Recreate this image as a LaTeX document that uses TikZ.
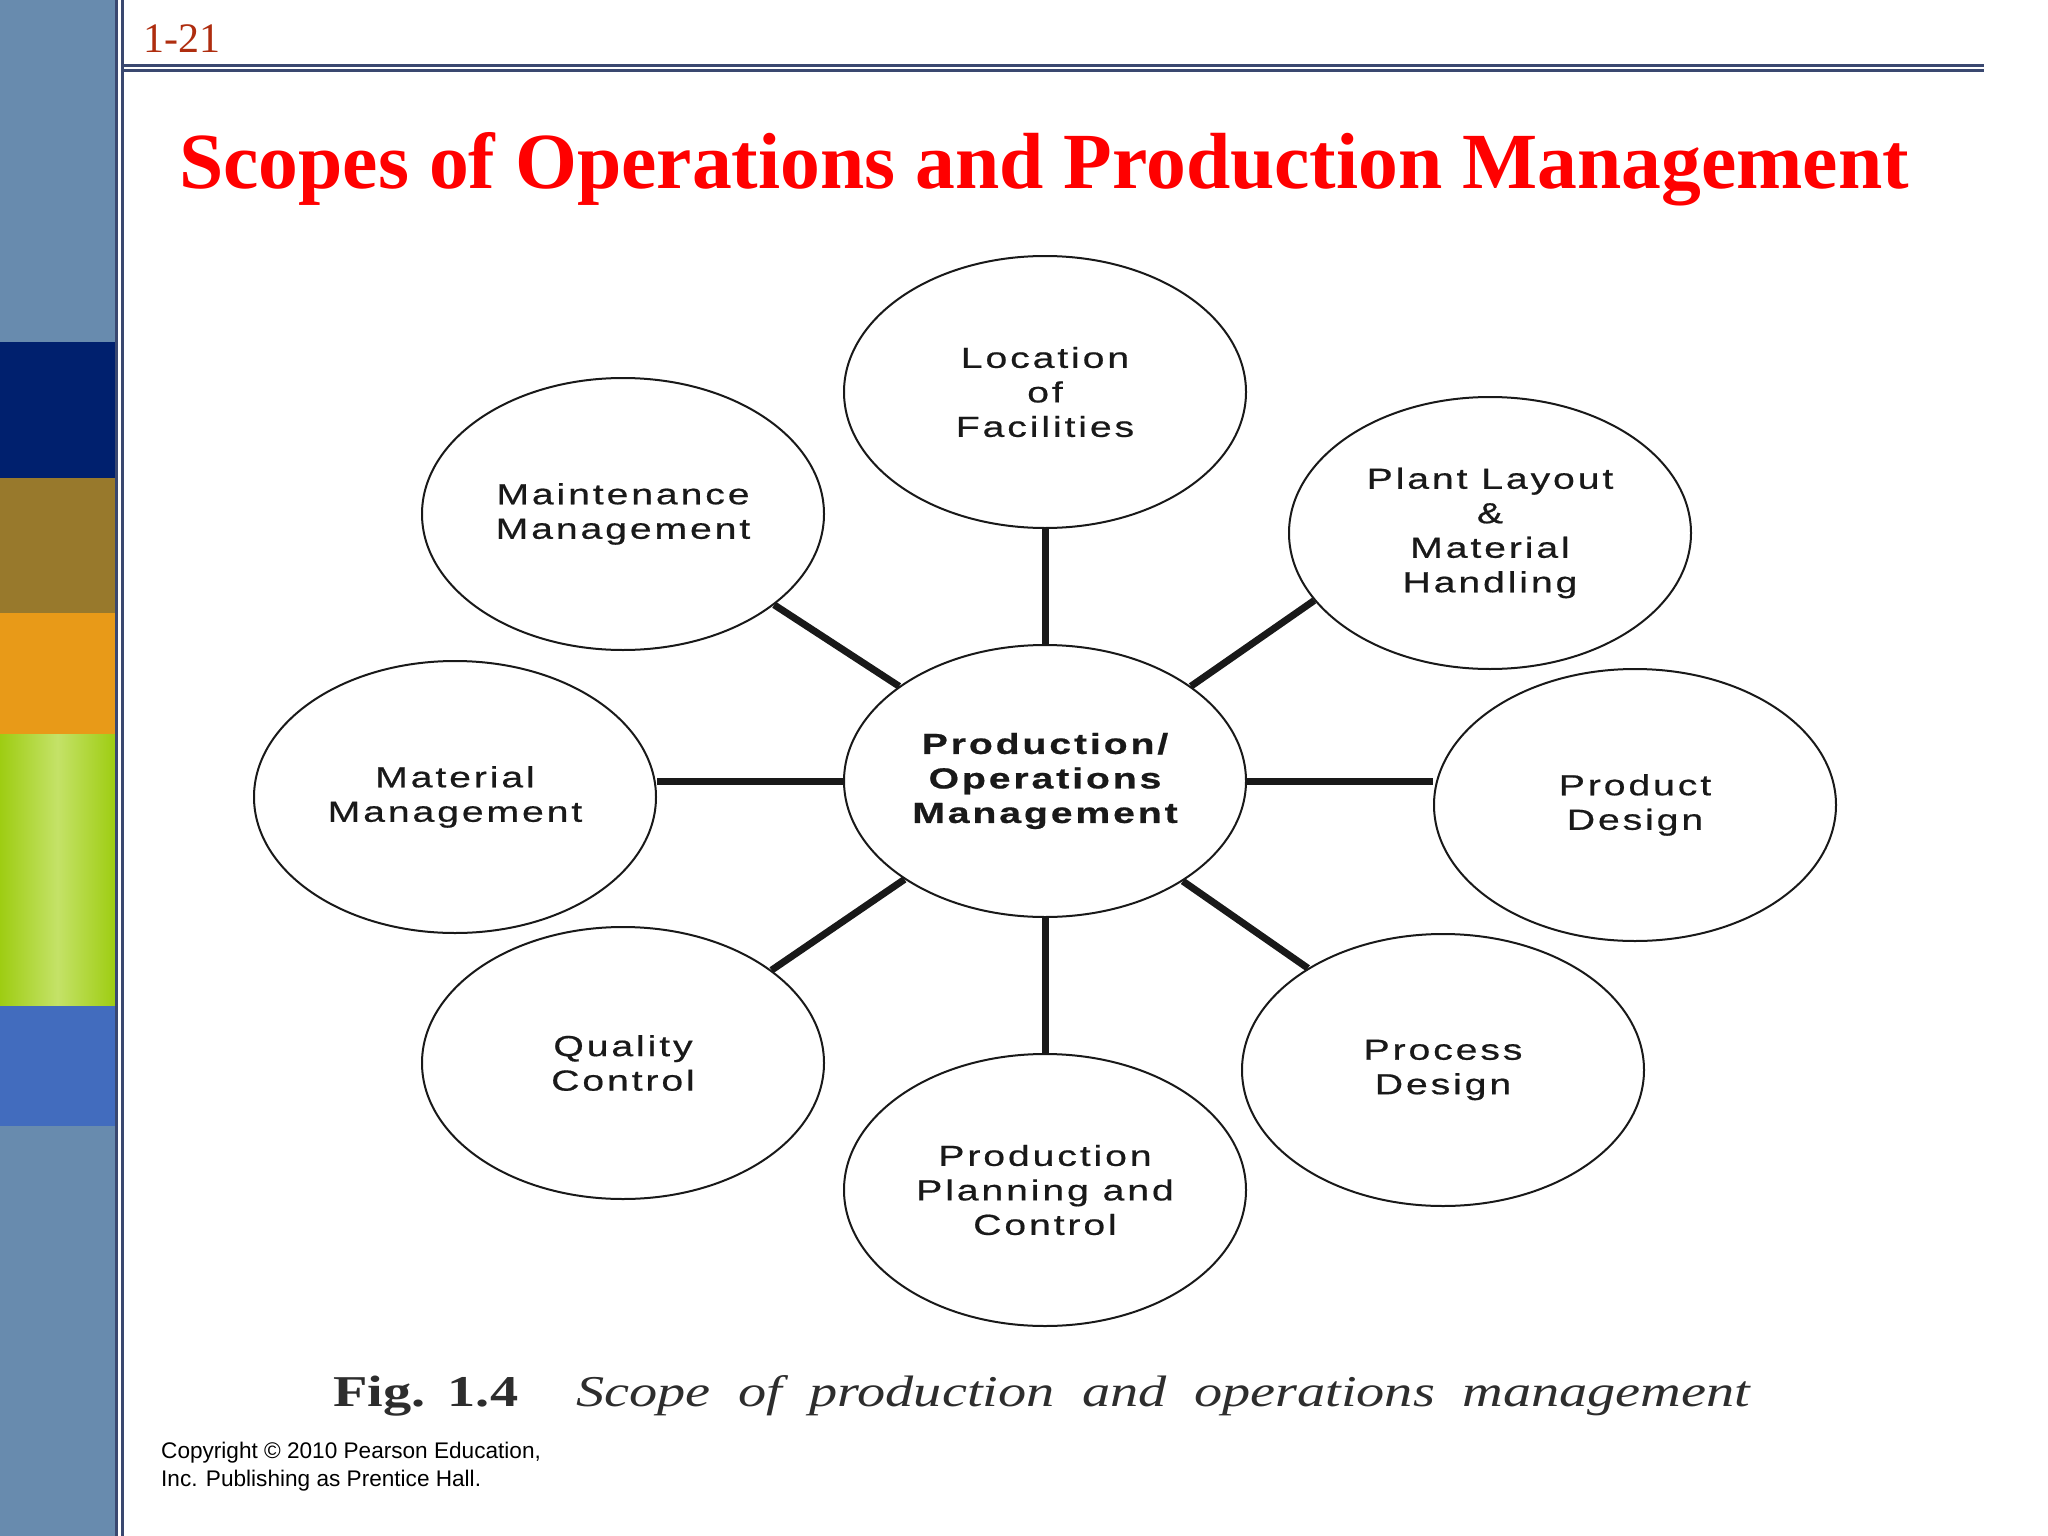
\documentclass[tikz,border=0pt]{standalone}
\usepackage{fontspec}
\setmainfont{Liberation Serif}
\newfontfamily\bubblefont[FakeStretch=1.35,LetterSpace=10,FakeBold=0.6]{Liberation Sans}
\newfontfamily\capfont[FakeStretch=1.28]{Liberation Serif}
\newfontfamily\arialfont{Liberation Sans}
\usetikzlibrary{shapes.geometric}
\definecolor{bargrey}{RGB}{104,139,174}
\definecolor{barnavy}{RGB}{0,32,110}
\definecolor{barbrown}{RGB}{152,121,44}
\definecolor{barorange}{RGB}{232,154,24}
\definecolor{bargreen}{RGB}{158,205,18}
\definecolor{barlight}{RGB}{196,226,104}
\definecolor{barblue}{RGB}{66,108,190}
\definecolor{rulec}{RGB}{58,72,112}
\definecolor{inkc}{RGB}{25,25,25}
\definecolor{capgrey}{RGB}{45,45,45}
\definecolor{titlered}{RGB}{255,0,0}
\definecolor{pagenum}{RGB}{175,45,15}
\begin{document}
\begin{tikzpicture}[x=1pt,y=-1pt,
  bubble/.style={draw=inkc, line width=2pt, ellipse, minimum width=402pt,
    minimum height=272pt, inner sep=0pt, align=center, text=inkc,
    font=\bubblefont\fontsize{29}{34.5}\selectfont},
  spoke/.style={line width=7pt, draw=inkc},
  rulel/.style={line width=3pt, draw=rulec},
  plain/.style={inner sep=0pt, anchor=base west}]
\useasboundingbox (0,0) rectangle (2048,1536);
\fill[white] (0,0) rectangle (2048,1536);
% left colour bar
\fill[bargrey] (0,0) rectangle (115,342);
\fill[barnavy] (0,342) rectangle (115,478);
\fill[barbrown] (0,478) rectangle (115,613);
\fill[barorange] (0,613) rectangle (115,734);
\shade[left color=bargreen, right color=bargreen, middle color=barlight] (0,734) rectangle (115,1006);
\fill[barblue] (0,1006) rectangle (115,1126);
\fill[bargrey] (0,1126) rectangle (115,1536);
% rules
\draw[rulel] (116.5,0) -- (116.5,1536);
\draw[rulel] (122.5,0) -- (122.5,1536);
\draw[rulel] (124,65.5) -- (1984,65.5);
\draw[rulel] (124,70.5) -- (1984,70.5);
% header texts
\node[plain, text=pagenum, font=\fontsize{42}{50}\selectfont] (pnum) at (143,53) {1-21};
\node[plain, text=titlered, font=\fontsize{79.6}{96}\selectfont\bfseries] (title) at (179,189) {Scopes of Operations and Production Management};
% bubbles
\node[bubble] (c) at (1045,781) {\bfseries Production/\\\bfseries Operations\\\bfseries Management};
\node[bubble] (loc) at (1045,392) {Location\\of\\Facilities};
\node[bubble] (plant) at (1490,533) {Plant Layout\\\&\\Material\\Handling};
\node[bubble] (prod) at (1635,805) {Product\\Design};
\node[bubble] (proc) at (1443,1070) {Process\\Design};
\node[bubble] (ppc) at (1045,1190) {Production\\Planning and\\Control};
\node[bubble] (qc) at (623,1063) {Quality\\Control};
\node[bubble] (mat) at (455,797) {Material\\Management};
\node[bubble] (maint) at (623,514) {Maintenance\\Management};
% spokes
\draw[spoke] (loc.south) -- (c.north);
\draw[spoke] (c.south) -- (ppc.north);
\draw[spoke] (c.west) -- (c.west -| mat.east);
\draw[spoke] (c.east) -- (c.east -| prod.west);
\draw[spoke] (c.147.8) -- (maint.-31.2);
\draw[spoke] (c.33.9) -- (plant.201.8);
\draw[spoke] (c.215.5) -- (qc.32.2);
\draw[spoke] (c.-36.6) -- (proc.143.1);
% caption
\node[plain, text=capgrey, font=\capfont\fontsize{44}{50}\selectfont\bfseries] (fig) at (333,1406) {\makebox[185pt][s]{Fig. 1.4}};
\node[plain, text=capgrey, font=\capfont\fontsize{44}{50}\selectfont\itshape] (capt) at (576,1406) {\makebox[1174pt][s]{Scope of production and operations management}};
% copyright
\node[plain, align=left, font=\arialfont\fontsize{22.6}{27.5}\selectfont] (copy) at (161,1486) {Copyright © 2010 Pearson Education,\\Inc. Publishing as Prentice Hall.};
\end{tikzpicture}
\end{document}
